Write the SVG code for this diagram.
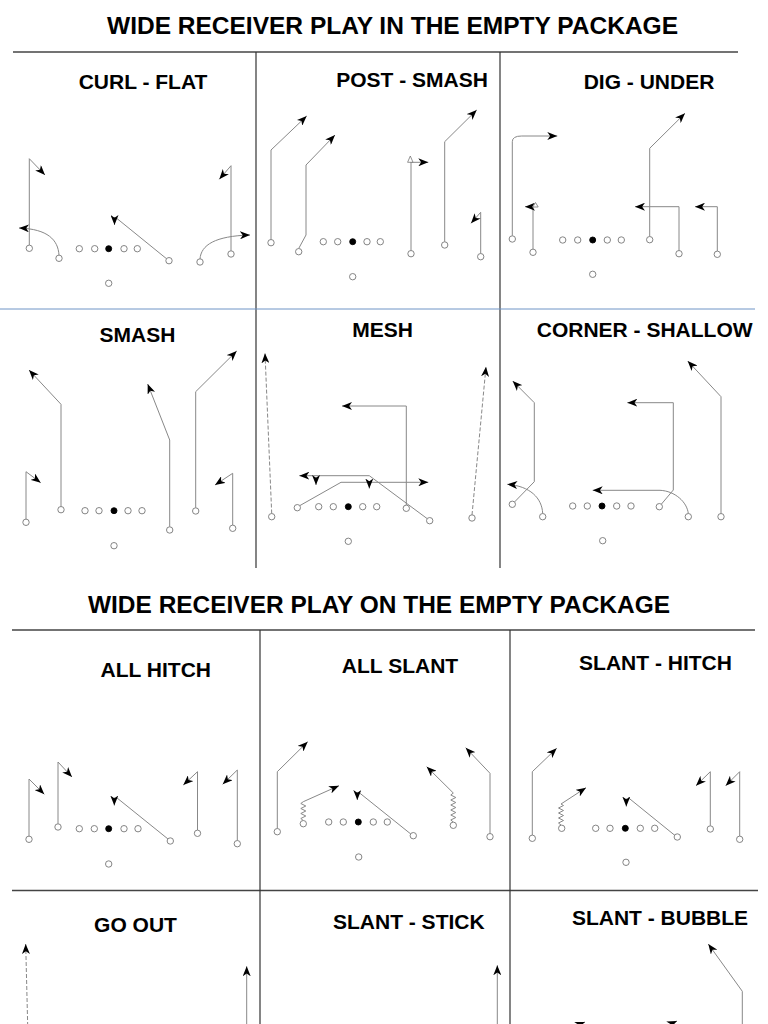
<svg xmlns="http://www.w3.org/2000/svg" width="768" height="1024" viewBox="0 0 768 1024">
<style>
.bg{fill:#fff}
.h1{font-family:"Liberation Sans",Arial,sans-serif;font-weight:bold;font-size:24px;fill:#000;text-anchor:middle}
.t{font-family:"Liberation Sans",Arial,sans-serif;font-weight:bold;font-size:21px;fill:#000;text-anchor:middle}
.rule{stroke:#444;stroke-width:1.5;fill:none}
.div{stroke:#333;stroke-width:1.2;fill:none}
.blue{stroke:#6f94c6;stroke-width:1;fill:none}
.p{fill:#fff;stroke:#777;stroke-width:0.9}
.c{fill:#000;stroke:#000;stroke-width:0.9}
.r{fill:none;stroke:#888;stroke-width:1}
.ra{fill:none;stroke:#888;stroke-width:1;marker-end:url(#ah)}
.dash{stroke-dasharray:4 2}
.tri{fill:#fff;stroke:#777;stroke-width:0.8}
</style>
<defs>
<marker id="ah" markerUnits="userSpaceOnUse" markerWidth="11" markerHeight="8" refX="10" refY="4" orient="auto" viewBox="0 0 11 8">
<path d="M0,0 L10,4 L0,8 L2.8,4 Z" fill="#000"/>
</marker>
</defs>
<rect class="bg" x="0" y="0" width="768" height="1024"/>

<g id="titles">
<text class="h1" x="392.5" y="34" textLength="571" lengthAdjust="spacingAndGlyphs">WIDE RECEIVER PLAY IN THE EMPTY PACKAGE</text>
<text class="h1" x="379" y="613" textLength="582" lengthAdjust="spacingAndGlyphs">WIDE RECEIVER PLAY ON THE EMPTY PACKAGE</text>
</g>

<g id="grid">
<line class="rule" x1="13" y1="52" x2="738" y2="52"/>
<line class="div" x1="256" y1="52" x2="256" y2="568"/>
<line class="div" x1="500" y1="52" x2="500" y2="568"/>
<line class="blue" x1="0" y1="309" x2="755" y2="309"/>
<line class="rule" x1="12" y1="630" x2="755" y2="630"/>
<line class="rule" x1="12" y1="890.5" x2="758" y2="890.5"/>
<line class="div" x1="260" y1="630" x2="260" y2="1024"/>
<line class="div" x1="510" y1="630" x2="510" y2="1024"/>
</g>

<!-- CURL - FLAT -->
<g id="curl-flat">
<text class="t" x="143" y="89">CURL - FLAT</text>
<g class="routes">
<path class="ra" d="M29.3,245 V158.7 L45,175"/>
<path class="ra" d="M59,255 C58,240 48,229 19,228"/>
<path class="r" d="M166.5,258.7 L116.7,218.3"/>
<path class="ra" d="M114.5,217 L114.5,225"/>
<path class="ra" d="M231,251 V165.7 L219.3,179.3"/>
<path class="ra" d="M200,259 C201,245 215,236 250,235"/>
</g>
<circle class="p" cx="29.3" cy="248.3" r="3.2"/><circle class="p" cx="59" cy="258.3" r="3.2"/>
<circle class="p" cx="79.3" cy="248.7" r="3.2"/><circle class="p" cx="94.7" cy="248.7" r="3.2"/>
<circle class="c" cx="108.7" cy="248.7" r="3"/><circle class="p" cx="124" cy="248.7" r="3.2"/>
<circle class="p" cx="137.3" cy="248.7" r="3.2"/><circle class="p" cx="169" cy="260.7" r="3.2"/>
<circle class="p" cx="200" cy="262" r="3.2"/><circle class="p" cx="231" cy="254" r="3.2"/>
<circle class="p" cx="108.7" cy="283.3" r="3.2"/>
</g>

<!-- POST - SMASH -->
<g id="post-smash">
<text class="t" x="412" y="87">POST - SMASH</text>
<g class="routes">
<path class="ra" d="M271,239.5 V150 L306.7,116"/>
<path class="ra" d="M298.7,248.5 L306,235 V165 L335,135"/>
<path class="r" d="M411,250.5 V162.3"/>
<path class="ra" d="M410.3,162.3 H428.3"/>
<polygon class="tri" points="410.3,156 407.6,162.3 413,162.3"/>
<path class="ra" d="M444.7,241.8 V141.7 L476.7,110"/>
<path class="ra" d="M480.7,253.5 V212.3 L471,223.3"/>
</g>
<circle class="p" cx="271" cy="242.7" r="3.2"/><circle class="p" cx="298.7" cy="251.7" r="3.2"/>
<circle class="p" cx="323.3" cy="241.7" r="3.2"/><circle class="p" cx="337.7" cy="241.7" r="3.2"/>
<circle class="c" cx="352.7" cy="241.7" r="3"/><circle class="p" cx="367" cy="241.7" r="3.2"/>
<circle class="p" cx="380.3" cy="241.7" r="3.2"/><circle class="p" cx="411" cy="253.7" r="3.2"/>
<circle class="p" cx="444.7" cy="245" r="3.2"/><circle class="p" cx="480.7" cy="256.7" r="3.2"/>
<circle class="p" cx="352.7" cy="276.7" r="3.2"/>
</g>

<!-- DIG - UNDER -->
<g id="dig-under">
<text class="t" x="649" y="89">DIG - UNDER</text>
<g class="routes">
<path class="ra" d="M512.3,235.8 V141.7 Q512.3,136 521.7,136 H557.3"/>
<path class="ra" d="M533,249 V206.7 H525"/>
<polygon class="tri" points="535.5,202.5 532.8,207 538.2,207"/>
<path class="ra" d="M649.7,236.5 V148.3 L685,113.3"/>
<path class="ra" d="M679,250.5 V206.7 H635"/>
<path class="ra" d="M717.3,251 V206.7 H695"/>
</g>
<circle class="p" cx="512.3" cy="239" r="3.2"/><circle class="p" cx="533" cy="252.3" r="3.2"/>
<circle class="p" cx="562.7" cy="240" r="3.2"/><circle class="p" cx="577.7" cy="240" r="3.2"/>
<circle class="c" cx="592.7" cy="240" r="3"/><circle class="p" cx="607.3" cy="240" r="3.2"/>
<circle class="p" cx="621.3" cy="240" r="3.2"/><circle class="p" cx="649.7" cy="239.7" r="3.2"/>
<circle class="p" cx="679" cy="253.7" r="3.2"/><circle class="p" cx="717.3" cy="254.3" r="3.2"/>
<circle class="p" cx="592.7" cy="274.3" r="3.2"/>
</g>

<!-- SMASH -->
<g id="smash">
<text class="t" x="137.5" y="342">SMASH</text>
<g class="routes">
<path class="ra" d="M26,519 V471.7 L40.7,482.7"/>
<path class="ra" d="M61,506.5 V404.3 L29,370"/>
<path class="ra" d="M169.7,526.8 V440 L147.7,384"/>
<path class="ra" d="M195.7,507.8 V391.7 L236.7,351"/>
<path class="ra" d="M232.7,525 V473.3 L215,485"/>
</g>
<circle class="p" cx="26" cy="522.3" r="3.2"/><circle class="p" cx="61" cy="509.7" r="3.2"/>
<circle class="p" cx="85" cy="510.7" r="3.2"/><circle class="p" cx="99" cy="510.7" r="3.2"/>
<circle class="c" cx="114" cy="510.7" r="3"/><circle class="p" cx="128" cy="510.7" r="3.2"/>
<circle class="p" cx="142" cy="510.7" r="3.2"/><circle class="p" cx="169.7" cy="530" r="3.2"/>
<circle class="p" cx="195.7" cy="511" r="3.2"/><circle class="p" cx="232.7" cy="528.3" r="3.2"/>
<circle class="p" cx="114" cy="545.7" r="3.2"/>
</g>

<!-- MESH -->
<g id="mesh">
<text class="t" x="382.7" y="337">MESH</text>
<g class="routes">
<path class="ra dash" d="M271.7,513.5 L265,353.3"/>
<path class="ra" d="M300,505.5 L341,482.3 H428.3"/>
<path class="ra" d="M369.3,481 L369.3,488.5"/>
<path class="ra" d="M427,518.5 L369.3,475.7 H299.3"/>
<path class="ra" d="M316,477 L316,485"/>
<path class="ra" d="M406.3,505 V406 H342"/>
<path class="ra dash" d="M472,515 L486,366.7"/>
</g>
<circle class="p" cx="271.7" cy="516.7" r="3.2"/><circle class="p" cx="297.3" cy="507.7" r="3.2"/>
<circle class="p" cx="318.7" cy="506.7" r="3.2"/><circle class="p" cx="333.3" cy="506.7" r="3.2"/>
<circle class="c" cx="348.3" cy="506.7" r="3"/><circle class="p" cx="362.7" cy="506.7" r="3.2"/>
<circle class="p" cx="376.7" cy="506.7" r="3.2"/><circle class="p" cx="406.3" cy="508.3" r="3.2"/>
<circle class="p" cx="429.7" cy="520.7" r="3.2"/><circle class="p" cx="472" cy="518" r="3.2"/>
<circle class="p" cx="348.3" cy="541.3" r="3.2"/>
</g>

<!-- CORNER - SHALLOW -->
<g id="corner-shallow">
<text class="t" x="644.7" y="337">CORNER - SHALLOW</text>
<g class="routes">
<path class="ra" d="M514.5,502 L534.3,481.7 V402.7 L512.7,381"/>
<path class="ra" d="M542.7,513.5 C542,498 530,486 507.3,484.3"/>
<path class="ra" d="M661.5,504 L673.3,490 V402.7 H627.3"/>
<path class="ra" d="M688.3,513.5 C687,502 675,491 660,490.3 H592.7"/>
<path class="ra" d="M721,513.5 V396.7 L687.7,361"/>
</g>
<circle class="p" cx="512.3" cy="504.3" r="3.2"/><circle class="p" cx="542.7" cy="516.7" r="3.2"/>
<circle class="p" cx="572.7" cy="506" r="3.2"/><circle class="p" cx="587.3" cy="506" r="3.2"/>
<circle class="c" cx="602" cy="506" r="3"/><circle class="p" cx="616.7" cy="506" r="3.2"/>
<circle class="p" cx="631" cy="506" r="3.2"/><circle class="p" cx="659.3" cy="506.7" r="3.2"/>
<circle class="p" cx="688.3" cy="516.7" r="3.2"/><circle class="p" cx="721" cy="516.7" r="3.2"/>
<circle class="p" cx="602.7" cy="540.7" r="3.2"/>
</g>

<!-- ALL HITCH -->
<g id="all-hitch">
<text class="t" x="155.8" y="677">ALL HITCH</text>
<g class="routes">
<path class="ra" d="M29,836 V779 L44.3,794.3"/>
<path class="ra" d="M58,823.8 V762 L72,777"/>
<path class="r" d="M168,839 L116.7,797.7"/>
<path class="ra" d="M114.3,797.5 L114.3,805.5"/>
<path class="ra" d="M197.5,830 V771.7 L183.3,785"/>
<path class="ra" d="M237.3,840.5 V770 L222.7,784.3"/>
</g>
<circle class="p" cx="29" cy="839.3" r="3.2"/><circle class="p" cx="58" cy="827" r="3.2"/>
<circle class="p" cx="79.3" cy="828.7" r="3.2"/><circle class="p" cx="94.3" cy="828.7" r="3.2"/>
<circle class="c" cx="108.7" cy="828.7" r="3"/><circle class="p" cx="124" cy="828.7" r="3.2"/>
<circle class="p" cx="138" cy="828.7" r="3.2"/><circle class="p" cx="170.3" cy="841" r="3.2"/>
<circle class="p" cx="197.5" cy="833.3" r="3.2"/><circle class="p" cx="237.3" cy="843.7" r="3.2"/>
<circle class="p" cx="108.7" cy="864" r="3.2"/>
</g>

<!-- ALL SLANT -->
<g id="all-slant">
<text class="t" x="400" y="673">ALL SLANT</text>
<g class="routes">
<path class="ra" d="M277.3,828.5 V771.7 L307.7,741.7"/>
<path class="ra" d="M303.3,820.5 l-2.5,-2 l5,-2.5 l-5,-2.5 l5,-2.5 l-5,-2.5 l5,-2.5 l-5,-2.5 l2.5,-1.8 L339,785.7"/>
<path class="r" d="M410.8,834 L360,793.3"/>
<path class="ra" d="M357.3,792 L357.3,800"/>
<path class="ra" d="M453.3,822 l-2.5,-2 l5,-2.5 l-5,-2.5 l5,-2.5 l-5,-2.5 l5,-2.5 l-5,-2.5 l5,-2.5 l-5,-2.5 l5,-2.5 l-5,-2.5 l2.5,-2 L426.7,766.7"/>
<path class="ra" d="M490,833.5 V773.3 L465.7,747.7"/>
</g>
<circle class="p" cx="277.3" cy="831.7" r="3.2"/><circle class="p" cx="303.3" cy="823.7" r="3.2"/>
<circle class="p" cx="328.7" cy="822" r="3.2"/><circle class="p" cx="343.3" cy="822" r="3.2"/>
<circle class="c" cx="358.3" cy="822" r="3"/><circle class="p" cx="373.3" cy="822" r="3.2"/>
<circle class="p" cx="387.3" cy="822" r="3.2"/><circle class="p" cx="413.3" cy="835.7" r="3.2"/>
<circle class="p" cx="453.3" cy="825.3" r="3.2"/><circle class="p" cx="490" cy="836.7" r="3.2"/>
<circle class="p" cx="358.7" cy="857" r="3.2"/>
</g>

<!-- SLANT - HITCH -->
<g id="slant-hitch">
<text class="t" x="655.5" y="670">SLANT - HITCH</text>
<g class="routes">
<path class="ra" d="M532.3,835 V771.7 L556.7,748.3"/>
<path class="ra" d="M561,825 l-2.5,-2 l5,-2.5 l-5,-2.5 l5,-2.5 l-5,-2.5 l5,-2.5 l-5,-2.5 l5,-2.5 l-2.5,-1.5 L586,787.7"/>
<path class="r" d="M675,835.5 L628.3,797.7"/>
<path class="ra" d="M626.3,798.5 L626.3,806.5"/>
<path class="ra" d="M710.3,825.8 V771.7 L696,785.7"/>
<path class="ra" d="M739.7,836 V771.7 L725.7,785.7"/>
</g>
<circle class="p" cx="532.3" cy="838.3" r="3.2"/><circle class="p" cx="561.7" cy="828.3" r="3.2"/>
<circle class="p" cx="595.7" cy="828.3" r="3.2"/><circle class="p" cx="610" cy="828.3" r="3.2"/>
<circle class="c" cx="625.3" cy="828.3" r="3"/><circle class="p" cx="640.3" cy="828.3" r="3.2"/>
<circle class="p" cx="654.7" cy="828.3" r="3.2"/><circle class="p" cx="677.3" cy="837" r="3.2"/>
<circle class="p" cx="710.3" cy="829" r="3.2"/><circle class="p" cx="739.7" cy="839.3" r="3.2"/>
<circle class="p" cx="626" cy="862.3" r="3.2"/>
</g>

<!-- GO OUT -->
<g id="go-out">
<text class="t" x="135.5" y="932">GO OUT</text>
<g class="routes">
<path class="ra dash" d="M27.7,1026 L25.7,944"/>
<path class="ra" d="M246.7,1026 V966.3"/>
</g>
</g>

<!-- SLANT - STICK -->
<g id="slant-stick">
<text class="t" x="408.8" y="929">SLANT - STICK</text>
<g class="routes">
<path class="ra" d="M497.3,1026 V965.3"/>
</g>
</g>

<!-- SLANT - BUBBLE -->
<g id="slant-bubble">
<text class="t" x="660" y="925">SLANT - BUBBLE</text>
<g class="routes">
<path class="ra" d="M742.3,1026 V991.3 L708.3,944"/>
<path class="ra" d="M570,1028 L585,1022"/>
<path class="ra" d="M662,1028 L677,1021"/>
</g>
</g>
</svg>
